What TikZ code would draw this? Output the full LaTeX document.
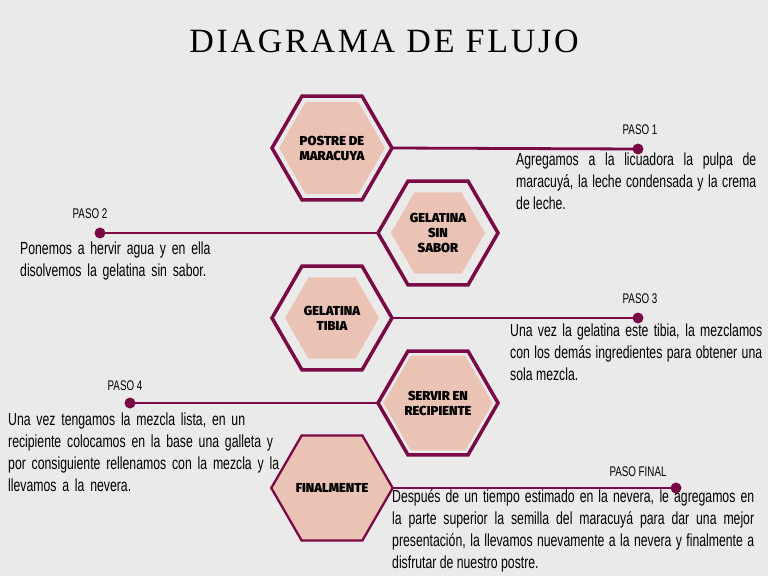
\documentclass[tikz,border=0pt]{standalone}
\usepackage{fontspec}
\setmainfont{Liberation Sans}[FakeStretch=0.7]
\newfontfamily\hexfont{Fira Sans}[BoldFont={Fira Sans Black}]
\newfontfamily\titlefont{Liberation Serif}[LetterSpace=8]
\usetikzlibrary{shapes.geometric}
\definecolor{wine}{HTML}{7A0A45}
\definecolor{peach}{HTML}{EBC3B5}
\definecolor{bg}{HTML}{EAEAEA}
\newcommand{\nohyph}{\hyphenpenalty=10000\relax\exhyphenpenalty=10000\relax}
\tikzset{
 outerhex/.style={regular polygon,regular polygon sides=6,minimum size=120pt,draw=wine,line width=3.5pt,inner sep=0,outer sep=0},
 innerhex/.style={regular polygon,regular polygon sides=6,minimum size=94pt,fill=peach,inner sep=0,align=center,font=\hexfont\bfseries\fontsize{13}{15}\selectfont},
 conn/.style={wine,line width=2.8pt},
 dot/.style={circle,fill=wine,minimum size=11pt,inner sep=0},
 paso/.style={font=\fontsize{14}{16}\selectfont,inner sep=0},
 desc/.style={font=\fontsize{17.5}{22}\selectfont\nohyph,inner sep=0,anchor=north west}
}
\begin{document}
\begin{tikzpicture}[x=1pt,y=-1pt]
\fill[bg] (0,0) rectangle (768,576);
\node[font=\titlefont\fontsize{34}{38}\selectfont] (title) at (384,41) {DIAGRAMA DE FLUJO};
\foreach \n/\x/\y/\t in {h1/332/148/{POSTRE DE\\MARACUYA},h2/438/233/{GELATINA\\SIN\\SABOR},h3/332/318/{GELATINA\\TIBIA},h4/438/403/{SERVIR EN\\RECIPIENTE},h5/332/488/{FINALMENTE}}{
 \node[outerhex] (\n) at (\x,\y) {};
 \node[innerhex] (\n i) at (\x,\y) {\t};
}
\coordinate (c1) at (638,149);
\coordinate (c2) at (100,233);
\coordinate (c3) at (638,318);
\coordinate (c4) at (130,403);
\coordinate (c5) at (676,488);
\draw[conn] (h1.east) -- (c1);
\draw[conn] (h2.west) -- (c2);
\draw[conn] (h3.east) -- (c3);
\draw[conn] (h4.west) -- (c4);
\draw[conn] (h5.east) -- (c5);
\foreach \i in {1,...,5} \node[dot] (d\i) at (c\i) {};
\node[paso] (p1) at (640,130) {PASO 1};
\node[paso] (p2) at (90,214) {PASO 2};
\node[paso] (p3) at (640,299) {PASO 3};
\node[paso] (p4) at (125,386) {PASO 4};
\node[paso] (p5) at (638,472) {PASO FINAL};
\node[desc,text width=240pt,align=justify] (t1) at (516,153) {Agregamos a la licuadora la pulpa de maracuyá, la leche condensada y la crema de leche.};
\node[desc,text width=250pt,align=left] (t2) at (20,242) {Ponemos a hervir agua y en ella\\disolvemos la gelatina sin sabor.};
\node[desc,text width=252pt,align=justify] (t3) at (510,324) {Una vez la gelatina este tibia, la mezclamos con los demás ingredientes para obtener una sola mezcla.};
\node[desc,text width=275pt,align=left] (t4) at (8,413) {Una vez tengamos la mezcla lista, en un\\recipiente colocamos en la base una galleta y\\por consiguiente rellenamos con la mezcla y la\\llevamos a la nevera.};
\node[desc,text width=362pt,align=justify] (t5) at (392,489) {Después de un tiempo estimado en la nevera, le agregamos en la parte superior la semilla del maracuyá para dar una mejor presentación, la llevamos nuevamente a la nevera y finalmente a disfrutar de nuestro postre.};
\end{tikzpicture}
\end{document}
